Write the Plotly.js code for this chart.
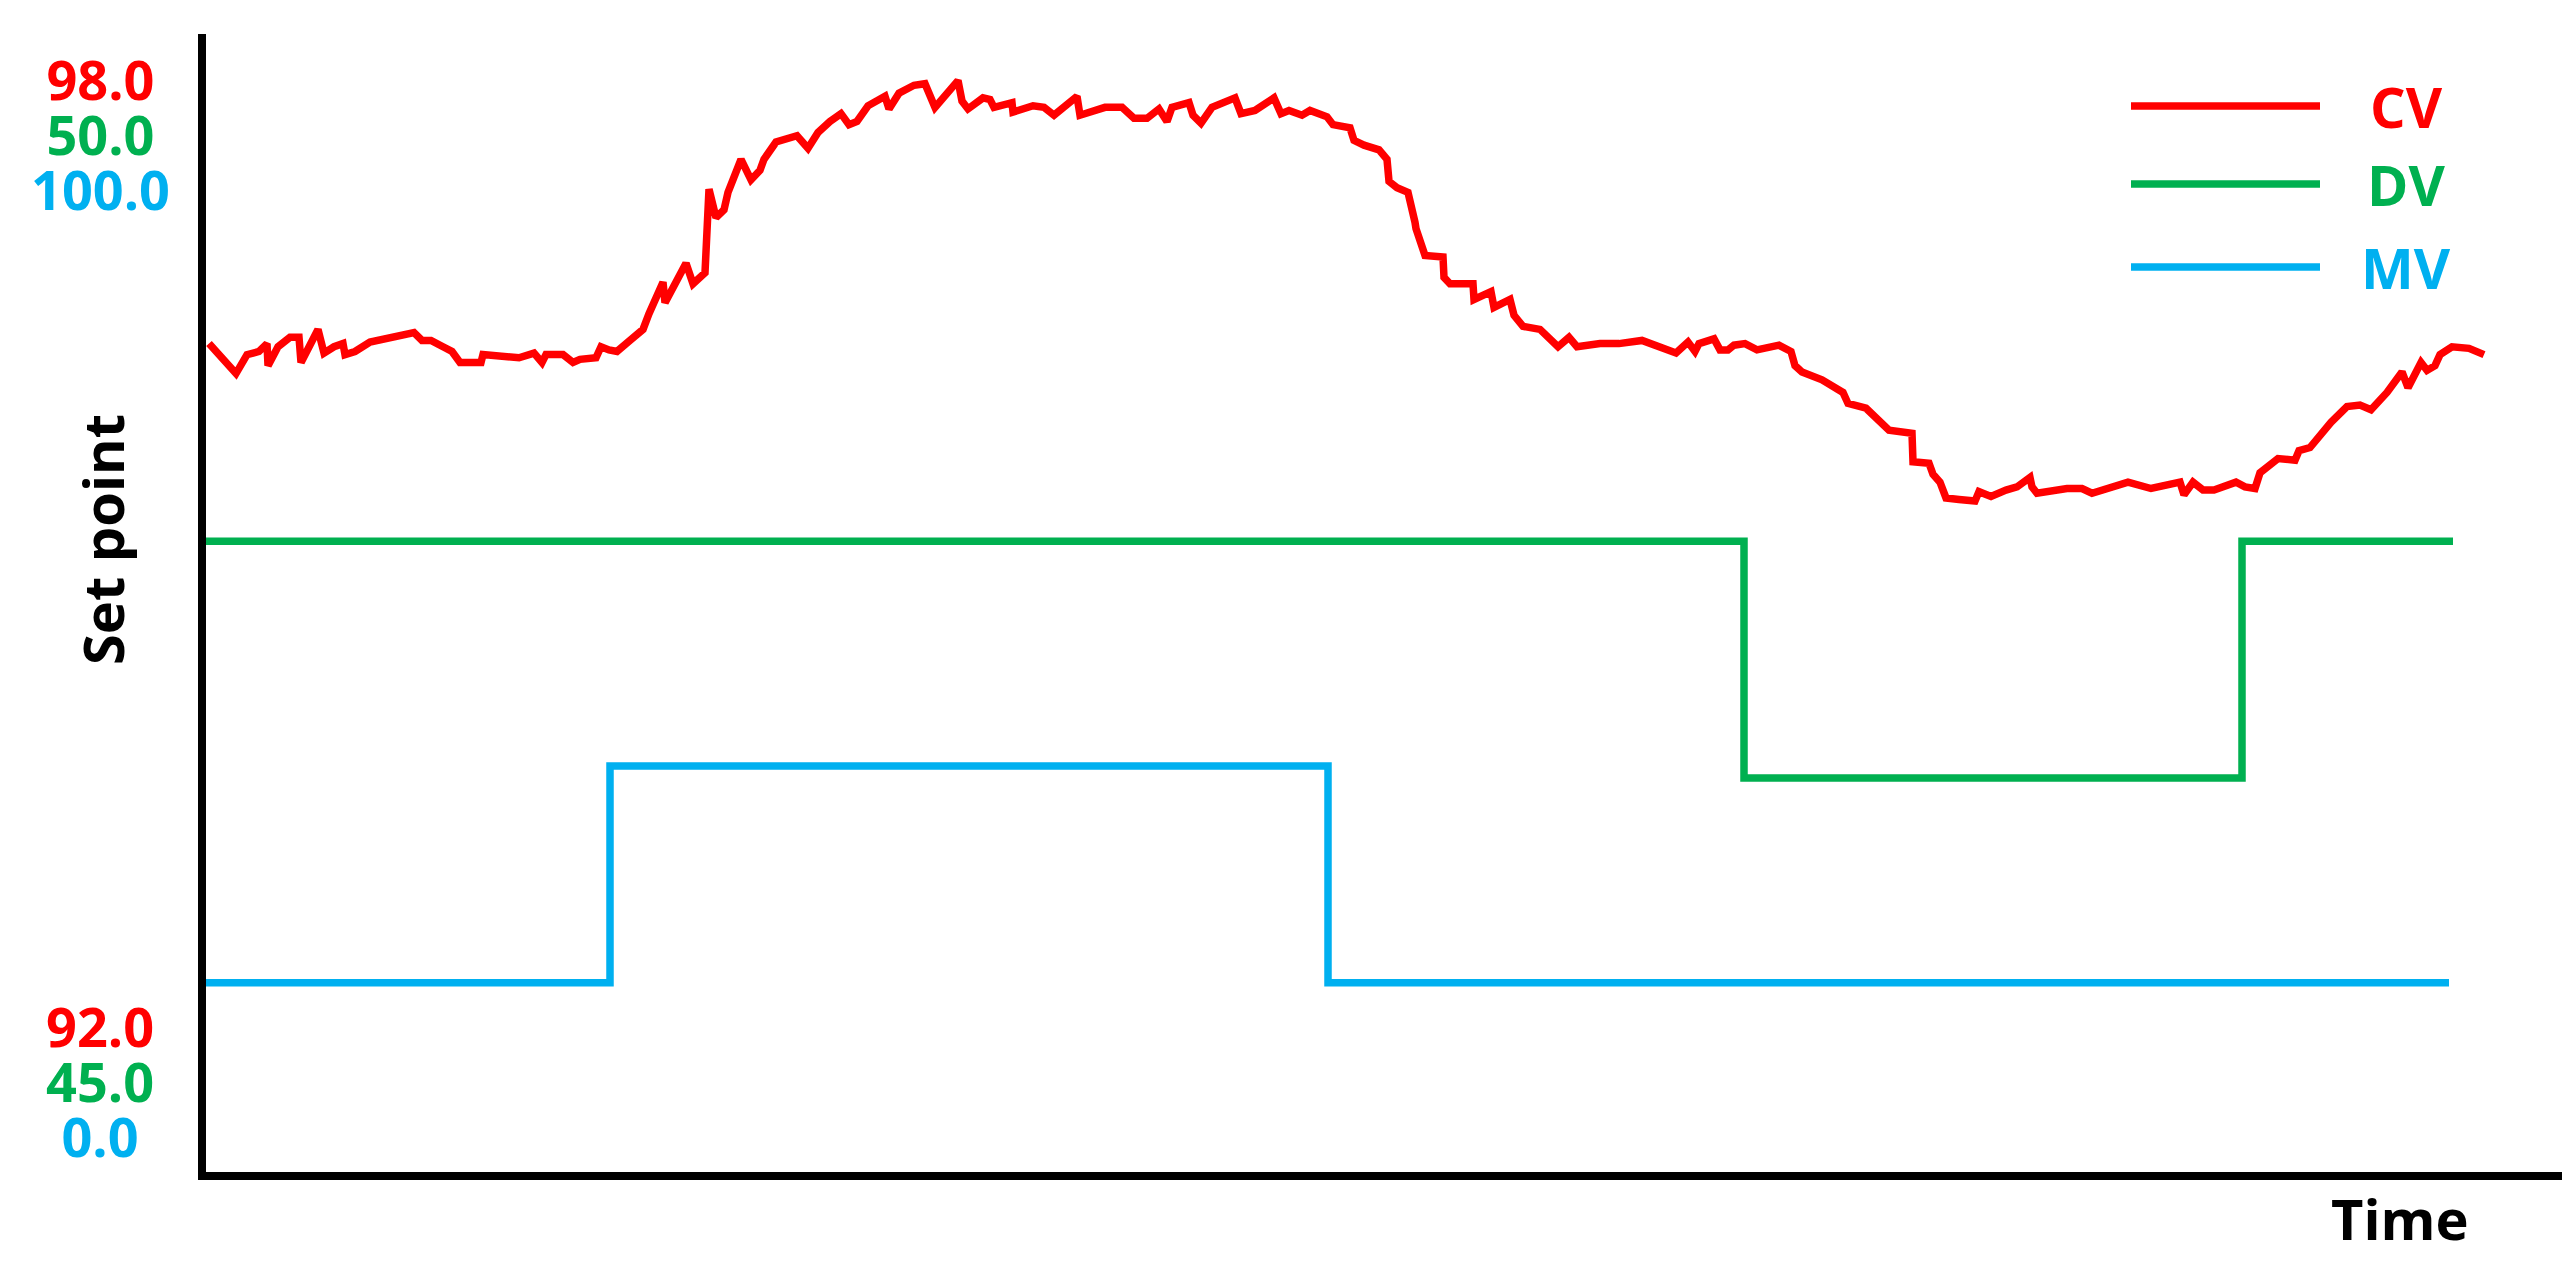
<!DOCTYPE html>
<html><head><meta charset="utf-8">
<script src="https://cdn.plot.ly/plotly-3.0.1.min.js"></script>
<style>html,body{margin:0;padding:0;background:#fff;}#chart{width:2572px;height:1278px;}</style>
</head><body><div id="chart"></div>
<script>
// ---- data ----
const seriesNames = ['CV', 'DV', 'MV'];
const cvTime = [0.5,3.2,4.3,5.5,6.3,6.4,7.4,8.6,9.5,9.7,11.4,12.0,13.0,13.9,14.1,15.1,16.6,18.9,21.0,21.8,22.7,23.9,24.8,25.6,27.7,27.9,30.0,31.5,33.0,33.8,34.2,35.9,36.9,37.6,39.2,39.7,40.5,41.3,42.6,43.9,44.5,45.9,46.1,47.0,48.2,48.9,50.1,50.5,51.2,52.0,52.4,53.7,54.7,55.6,56.0,57.2,58.5,
59.3,60.4,61.4,62.6,63.7,64.5,65.3,66.4,68.1,68.5,69.5,71.0,72.1,73.1,75.4,75.8,76.4,77.9,78.6,79.0,80.8,80.9,82.9,84.0,85.0,87.3,87.6,90.1,91.8,93.0,94.3,95.5,96.3,96.8,98.5,98.9,99.7,100.8,103.1,103.7,105.1,107.0,107.7,108.5,109.8,110.6,111.6,112.3,112.9,114.6,115.0,116.0,117.5,
118.3,118.5,119.3,120.4,121.0,121.1,121.2,121.6,122.1,123.9,124.0,124.6,126.9,127.0,128.7,129.0,130.6,131.0,131.9,133.6,135.4,136.5,137.3,139.6,141.5,143.8,146.1,147.2,148.4,149.1,149.5,151.0,151.6,152.4,153.0,154.1,155.3,157.5,158.7,159.1,159.8,161.8,163.9,164.4,166.2,167.3,168.5,170.8,170.9,172.5,172.9,173.6,174.2,175.5,
177.1,177.5,178.7,180.2,181.3,182.6,182.8,183.3,186.3,187.8,188.8,192.4,194.7,197.6,198.0,198.9,199.9,201.0,203.2,204.1,205.1,205.6,207.4,209.1,209.5,210.6,212.7,214.3,215.6,216.7,218.3,219.8,220.4,221.7,222.3,223.1,223.6,224.8,226.5,228.0];
const cvValue = [96.32,96.13,96.25,96.27,96.32,96.18,96.30,96.36,96.36,96.20,96.41,96.26,96.30,96.32,96.25,96.27,96.33,96.36,96.39,96.34,96.34,96.30,96.27,96.20,96.20,96.25,96.24,96.23,96.26,96.20,96.25,96.25,96.20,96.22,96.23,96.30,96.28,96.27,96.34,96.41,96.51,96.71,96.58,96.69,96.83,96.70,96.77,97.30,97.12,97.17,97.28,97.49,97.36,97.42,97.49,97.60,97.63,
97.64,97.56,97.66,97.73,97.78,97.71,97.73,97.83,97.89,97.81,97.91,97.96,97.97,97.82,97.99,97.86,97.81,97.88,97.87,97.82,97.85,97.79,97.83,97.82,97.77,97.89,97.77,97.82,97.82,97.75,97.75,97.81,97.73,97.82,97.85,97.77,97.72,97.82,97.88,97.78,97.80,97.88,97.78,97.80,97.77,97.80,97.78,97.76,97.71,97.69,97.61,97.58,97.55,
97.49,97.35,97.31,97.28,97.15,97.09,97.05,96.98,96.88,96.87,96.74,96.70,96.70,96.60,96.65,96.55,96.60,96.50,96.43,96.41,96.30,96.36,96.30,96.32,96.32,96.34,96.29,96.26,96.33,96.27,96.32,96.35,96.28,96.28,96.31,96.32,96.28,96.31,96.27,96.18,96.14,96.09,96.01,95.94,95.91,95.85,95.77,95.75,95.57,95.56,95.49,95.44,95.34,95.33,
95.32,95.38,95.35,95.39,95.41,95.47,95.41,95.37,95.40,95.40,95.37,95.44,95.40,95.44,95.36,95.44,95.39,95.39,95.44,95.41,95.40,95.50,95.59,95.58,95.64,95.66,95.82,95.92,95.93,95.90,96.01,96.14,96.04,96.20,96.15,96.18,96.25,96.30,96.29,96.25];
const dvTime = [0, 154.0, 203.8, 224.9];
const dvValue = [47.85, 46.6, 47.85, 47.85];
const mvTime = [0, 40.6, 112.4, 224.5];
const mvValue = [16.1, 39.0, 16.1, 16.1];
const cvTicks = [98.0, 92.0];   // [top, bottom] of CV scale
const dvTicks = [50.0, 45.0];   // [top, bottom] of DV scale
const mvTicks = [100.0, 0.0];   // [top, bottom] of MV scale
const xTitle = 'Time';
const yTitle = 'Set point';

// ---- styling / layout ----
const colors = {CV: '#FF0000', DV: '#00B050', MV: '#00B0F0'};
const W = 2572, H = 1278;
const M = {l: 206, r: 10, t: 34, b: 106};
const PW = W - M.l - M.r, PH = H - M.t - M.b;
const px = x => (x - M.l) / PW;          // page pixel -> paper x
const py = y => (H - M.b - y) / PH;      // page pixel -> paper y
const FONT = 'Open Sans, Noto Sans, sans-serif';

const traces = [
  {x: cvTime, y: cvValue, name: seriesNames[0], type: 'scatter', mode: 'lines', yaxis: 'y',
   line: {color: colors.CV, width: 7.5}},
  {x: dvTime, y: dvValue, name: seriesNames[1], type: 'scatter', mode: 'lines', yaxis: 'y2',
   line: {color: colors.DV, width: 7.5, shape: 'hv'}},
  {x: mvTime, y: mvValue, name: seriesNames[2], type: 'scatter', mode: 'lines', yaxis: 'y3',
   line: {color: colors.MV, width: 7.5, shape: 'hv'}}
];

const annotations = [];
// stacked scale labels: one text block per end of the scales (top / bottom),
// anchored on the DV axis (middle line of each block)
const stackSize = 42.3;   // sets line pitch (1.3em ~ 55px)
const glyphSize = 54;
const stack = idx => [[cvTicks, colors.CV], [dvTicks, colors.DV], [mvTicks, colors.MV]]
  .map(([t, c]) => `<span style="color:${c};font-size:${glyphSize}px">${t[idx].toFixed(1)}</span>`).join('<br>');
[0, 1].forEach(idx => annotations.push({
  xref: 'paper', yref: 'y2', x: px(100), y: dvTicks[idx], text: stack(idx), showarrow: false,
  xanchor: 'center', yanchor: 'middle', align: 'center',
  font: {family: FONT, size: stackSize, color: '#000', weight: 'bold'}
}));
annotations.push({xref: 'paper', yref: 'paper', x: px(2400), y: py(1218), text: xTitle, showarrow: false,
  xanchor: 'center', yanchor: 'middle', font: {family: FONT, size: 56, color: '#000', weight: 'bold'}});
annotations.push({xref: 'paper', yref: 'paper', x: px(102), y: py(540), text: yTitle, showarrow: false,
  textangle: -90, xanchor: 'center', yanchor: 'middle', font: {family: FONT, size: 56, color: '#000', weight: 'bold'}});

const legendRows = [106, 184, 267];
const shapes = [];
seriesNames.forEach((n, i) => {
  shapes.push({type: 'line', xref: 'paper', yref: 'paper', x0: px(2131), x1: px(2320),
    y0: py(legendRows[i]), y1: py(legendRows[i]), line: {color: colors[n], width: 7.5}});
  annotations.push({xref: 'paper', yref: 'paper', x: px(2406), y: py(legendRows[i]), text: n,
    showarrow: false, xanchor: 'center', yanchor: 'middle',
    font: {family: FONT, size: 56, color: colors[n], weight: 'bold'}});
});

const layout = {
  width: W, height: H, margin: M, showlegend: false,
  paper_bgcolor: '#fff', plot_bgcolor: '#fff',
  xaxis: {range: [0.2, 235.8], showline: true, linewidth: 8, linecolor: '#000', showgrid: false,
    zeroline: false, showticklabels: false, ticks: ''},
  yaxis: {range: [91.0603, 98.2857], showline: true, linewidth: 8, linecolor: '#000', showgrid: false,
    zeroline: false, showticklabels: false, ticks: ''},
  yaxis2: {range: [44.5195, 50.528], overlaying: 'y', visible: false},
  yaxis3: {range: [-3.911, 116.385], overlaying: 'y', visible: false},
  annotations: annotations, shapes: shapes
};

Plotly.newPlot('chart', traces, layout, {staticPlot: true, displayModeBar: false});
</script>
</body></html>
